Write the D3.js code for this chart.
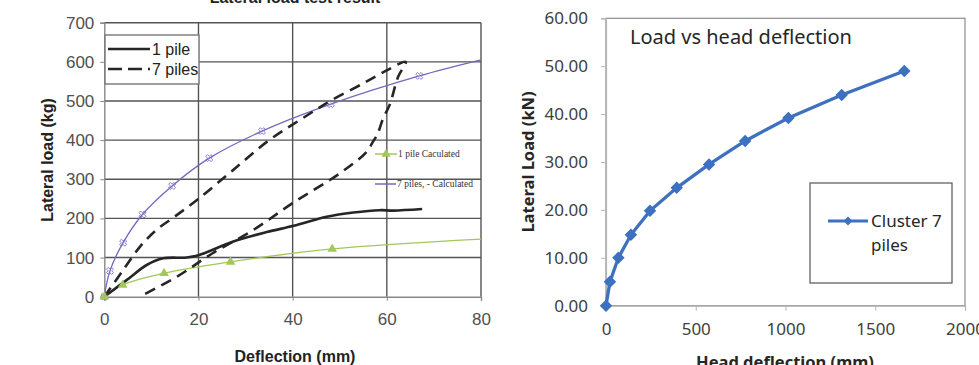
<!DOCTYPE html>
<html>
<head>
<meta charset="utf-8">
<script src="https://cdn.jsdelivr.net/npm/d3@7"></script>
<style>
  body { margin: 0; background: #fff; }
  svg { display: block; }
</style>
</head>
<body>
<div id="chart"></div>
<script>
// left chart: lateral load test result (deflection mm, load kg)
const leftXTicks = [0, 20, 40, 60, 80];
const leftYTicks = [0, 100, 200, 300, 400, 500, 600, 700];

const pile1Test = [[0, 0], [4.8, 43], [9, 81], [12.5, 98], [17.5, 100], [20, 106], [27.4, 141],
  [34.5, 165], [40.2, 181], [47.2, 204], [52.9, 215], [58.5, 221], [61.4, 220], [67.5, 224]];
const piles7Test = [[0, 0], [4, 68], [7.6, 128], [11, 170], [15, 205], [20, 250], [27, 320],
  [35, 400], [42, 455], [48, 500], [55, 545], [60, 578], [64, 600],
  [62.4, 562], [60.6, 490], [59.2, 455], [58, 415], [57, 395], [55.7, 370], [50, 315],
  [40, 239], [31.6, 170], [23, 111], [15.4, 51], [7.5, 0]];
const pile1Calc = [[0, 0], [3.9, 30], [12.7, 60], [26.8, 89], [48.4, 122], [80, 147]];
const pile1CalcMarks = [[0, 0], [3.9, 30], [12.7, 60], [26.8, 89], [48.4, 122]];
const piles7Calc = [[0, 0], [1.2, 66], [4, 138], [8.1, 210], [14.4, 283], [22.3, 354],
  [33.5, 423], [48.1, 492], [66.9, 564], [80, 605]];
const piles7CalcMarks = [[0, 0], [1.2, 66], [4, 138], [8.1, 210], [14.4, 283], [22.3, 354],
  [33.5, 423], [48.1, 492], [66.9, 564]];

// right chart: cluster 7 piles (head deflection mm, load kN)
const rightXTicks = [0, 500, 1000, 1500, 2000];
const rightYTicks = [0, 10, 20, 30, 40, 50, 60];
const clusterDeflection = [0, 22, 69, 139, 245, 394, 574, 775, 1016, 1313, 1662];
const clusterLoad = [0, 5, 10, 14.8, 19.8, 24.6, 29.5, 34.4, 39.2, 44, 49];

const width = 979, height = 365;
const svg = d3.select("#chart").append("svg")
  .attr("width", width).attr("height", height);

const purple = "#7467bf", green = "#a3c85a", blue = "#3e70c0";

// ---------- left chart ----------
const lx = d3.scaleLinear().domain([0, 80]).range([104.3, 481]);
const ly = d3.scaleLinear().domain([0, 700]).range([296.7, 22.7]);
const left = svg.append("g").attr("font-family", "'Liberation Sans', Arial, sans-serif");

left.append("text")
  .attr("x", 295).attr("y", 3)
  .attr("text-anchor", "middle")
  .attr("font-weight", "bold").attr("font-size", 16).attr("fill", "#222")
  .text("Lateral load test result");

// grid
left.append("g").selectAll("line").data(leftYTicks.slice(1)).join("line")
  .attr("x1", lx(0)).attr("x2", lx(80))
  .attr("y1", d => ly(d)).attr("y2", d => ly(d))
  .attr("stroke", "#555").attr("stroke-width", 1.4);
left.append("g").selectAll("line").data(leftXTicks.slice(1)).join("line")
  .attr("y1", ly(0)).attr("y2", ly(700))
  .attr("x1", d => lx(d)).attr("x2", d => lx(d))
  .attr("stroke", "#555").attr("stroke-width", 1.4);

const lAxisY = left.append("g").attr("transform", `translate(${lx(0)},0)`)
  .call(d3.axisLeft(ly).tickValues(leftYTicks).tickSize(4).tickPadding(6).tickFormat(d3.format("d")));
const lAxisX = left.append("g").attr("transform", `translate(0,${ly(0)})`)
  .call(d3.axisBottom(lx).tickValues(leftXTicks).tickSize(4).tickPadding(12).tickFormat(d3.format("d")));
[lAxisY, lAxisX].forEach(a => {
  a.select(".domain").attr("stroke", "#888").attr("stroke-width", 1.4);
  a.selectAll(".tick line").attr("stroke", "#888");
  a.selectAll(".tick text").attr("font-size", 17).attr("fill", "#505050")
    .attr("font-family", "'Liberation Sans', Arial, sans-serif");
});

left.append("text")
  .attr("transform", `translate(53,160) rotate(-90)`)
  .attr("text-anchor", "middle")
  .attr("font-weight", "bold").attr("font-size", 16).attr("fill", "#222")
  .text("Lateral load (kg)");
left.append("text")
  .attr("x", 295).attr("y", 362)
  .attr("text-anchor", "middle")
  .attr("font-weight", "bold").attr("font-size", 16).attr("fill", "#222")
  .text("Deflection (mm)");

const lLine = d3.line().x(d => lx(d[0])).y(d => ly(d[1]));

left.append("path").datum(piles7Calc)
  .attr("d", lLine.curve(d3.curveCatmullRom.alpha(0.5)))
  .attr("fill", "none").attr("stroke", purple).attr("stroke-width", 1.3);
left.append("path").datum(pile1Calc)
  .attr("d", lLine.curve(d3.curveCatmullRom.alpha(0.5)))
  .attr("fill", "none").attr("stroke", green).attr("stroke-width", 1.3);
left.append("path").datum(pile1Test)
  .attr("d", lLine.curve(d3.curveCatmullRom.alpha(0.5)))
  .attr("fill", "none").attr("stroke", "#262626").attr("stroke-width", 2.6);
left.append("path").datum(piles7Test)
  .attr("d", lLine.curve(d3.curveCatmullRom.alpha(0.5)))
  .attr("fill", "none").attr("stroke", "#262626").attr("stroke-width", 2.6)
  .attr("stroke-dasharray", "11,7");

// markers
left.append("g").selectAll("path").data(piles7CalcMarks).join("path")
  .attr("transform", d => `translate(${lx(d[0])},${ly(d[1])}) rotate(45)`)
  .attr("d", d3.symbol(d3.symbolCross, 30))
  .attr("fill", "none").attr("stroke", purple).attr("stroke-width", 0.8);
left.append("g").selectAll("path").data(pile1CalcMarks).join("path")
  .attr("transform", d => `translate(${lx(d[0])},${ly(d[1])})`)
  .attr("d", d3.symbol(d3.symbolTriangle, 40))
  .attr("fill", green);

// legend (test)
const lLeg = left.append("g");
lLeg.append("rect").attr("x", 105).attr("y", 35).attr("width", 94).attr("height", 49)
  .attr("fill", "#fff").attr("stroke", "#777").attr("stroke-width", 1.4);
lLeg.append("line").attr("x1", 108).attr("x2", 150).attr("y1", 49).attr("y2", 49)
  .attr("stroke", "#262626").attr("stroke-width", 2.6);
lLeg.append("line").attr("x1", 108).attr("x2", 150).attr("y1", 69).attr("y2", 69)
  .attr("stroke", "#262626").attr("stroke-width", 2.6).attr("stroke-dasharray", "14,6");
lLeg.append("text").attr("x", 152).attr("y", 55).attr("font-size", 16).attr("fill", "#222").text("1 pile");
lLeg.append("text").attr("x", 152).attr("y", 75).attr("font-size", 16).attr("fill", "#222").text("7 piles");

// legend (calculated)
const cLeg = left.append("g").attr("font-family", "'Liberation Serif', serif").attr("font-size", 9.5).attr("fill", "#333");
cLeg.append("line").attr("x1", 375).attr("x2", 397).attr("y1", 154).attr("y2", 154)
  .attr("stroke", green).attr("stroke-width", 1.5);
cLeg.append("path").attr("transform", "translate(386,154)")
  .attr("d", d3.symbol(d3.symbolTriangle, 36)).attr("fill", green);
cLeg.append("text").attr("x", 398).attr("y", 157).text("1 pile Caculated");
cLeg.append("line").attr("x1", 375).attr("x2", 396).attr("y1", 184).attr("y2", 184)
  .attr("stroke", purple).attr("stroke-width", 1.5);
cLeg.append("text").attr("x", 397).attr("y", 187).text("7 piles, - Calculated");

// ---------- right chart ----------
const rx = d3.scaleLinear().domain([0, 2000]).range([606, 965]);
const ry = d3.scaleLinear().domain([0, 60]).range([305.7, 18.3]);
const right = svg.append("g").attr("font-family", "'Noto Sans', sans-serif");

right.append("rect")
  .attr("x", rx(0)).attr("y", ry(60))
  .attr("width", rx(2000) - rx(0)).attr("height", ry(0) - ry(60))
  .attr("fill", "none").attr("stroke", "#8c8c8c").attr("stroke-width", 1.2);

const rAxisY = right.append("g").attr("transform", `translate(${rx(0)},0)`)
  .call(d3.axisLeft(ry).tickValues(rightYTicks).tickSize(5).tickPadding(13).tickFormat(d3.format(".2f")));
const rAxisX = right.append("g").attr("transform", `translate(0,${ry(0)})`)
  .call(d3.axisBottom(rx).tickValues(rightXTicks).tickSize(5).tickPadding(12).tickFormat(d3.format("d")));
[rAxisY, rAxisX].forEach(a => {
  a.select(".domain").attr("stroke", "#b5b5b5").attr("stroke-width", 1.2);
  a.selectAll(".tick line").attr("stroke", "#b5b5b5");
  a.selectAll(".tick text").attr("font-size", 17).attr("fill", "#404040")
    .attr("font-family", "'Noto Sans', sans-serif");
});

right.append("text")
  .attr("x", 630).attr("y", 44)
  .attr("font-size", 20).attr("fill", "#262626")
  .text("Load vs head deflection");
right.append("text")
  .attr("transform", `translate(534,162) rotate(-90)`)
  .attr("text-anchor", "middle")
  .attr("font-weight", "bold").attr("font-size", 16.5).attr("fill", "#262626")
  .text("Lateral Load (kN)");
right.append("text")
  .attr("x", 785).attr("y", 368)
  .attr("text-anchor", "middle")
  .attr("font-weight", "bold").attr("font-size", 16.5).attr("fill", "#262626")
  .text("Head deflection (mm)");

const cluster = clusterDeflection.map((d, i) => [d, clusterLoad[i]]);
right.append("path").datum(cluster)
  .attr("d", d3.line().x(d => rx(d[0])).y(d => ry(d[1])))
  .attr("fill", "none").attr("stroke", blue).attr("stroke-width", 3.3);
right.append("g").selectAll("path").data(cluster).join("path")
  .attr("transform", d => `translate(${rx(d[0])},${ry(d[1])}) rotate(45)`)
  .attr("d", d3.symbol(d3.symbolSquare, 78))
  .attr("fill", blue);

// legend
const rLeg = right.append("g");
rLeg.append("rect").attr("x", 810).attr("y", 183).attr("width", 142).attr("height", 100)
  .attr("fill", "#fff").attr("stroke", "#555").attr("stroke-width", 1.2);
rLeg.append("line").attr("x1", 828).attr("x2", 868).attr("y1", 221).attr("y2", 221)
  .attr("stroke", blue).attr("stroke-width", 3);
rLeg.append("path").attr("transform", "translate(848,221) rotate(45)")
  .attr("d", d3.symbol(d3.symbolSquare, 40)).attr("fill", blue);
rLeg.append("text").attr("x", 871).attr("y", 227).attr("font-size", 17).attr("fill", "#262626").text("Cluster 7");
rLeg.append("text").attr("x", 871).attr("y", 251).attr("font-size", 17).attr("fill", "#262626").text("piles");
</script>
</body>
</html>
